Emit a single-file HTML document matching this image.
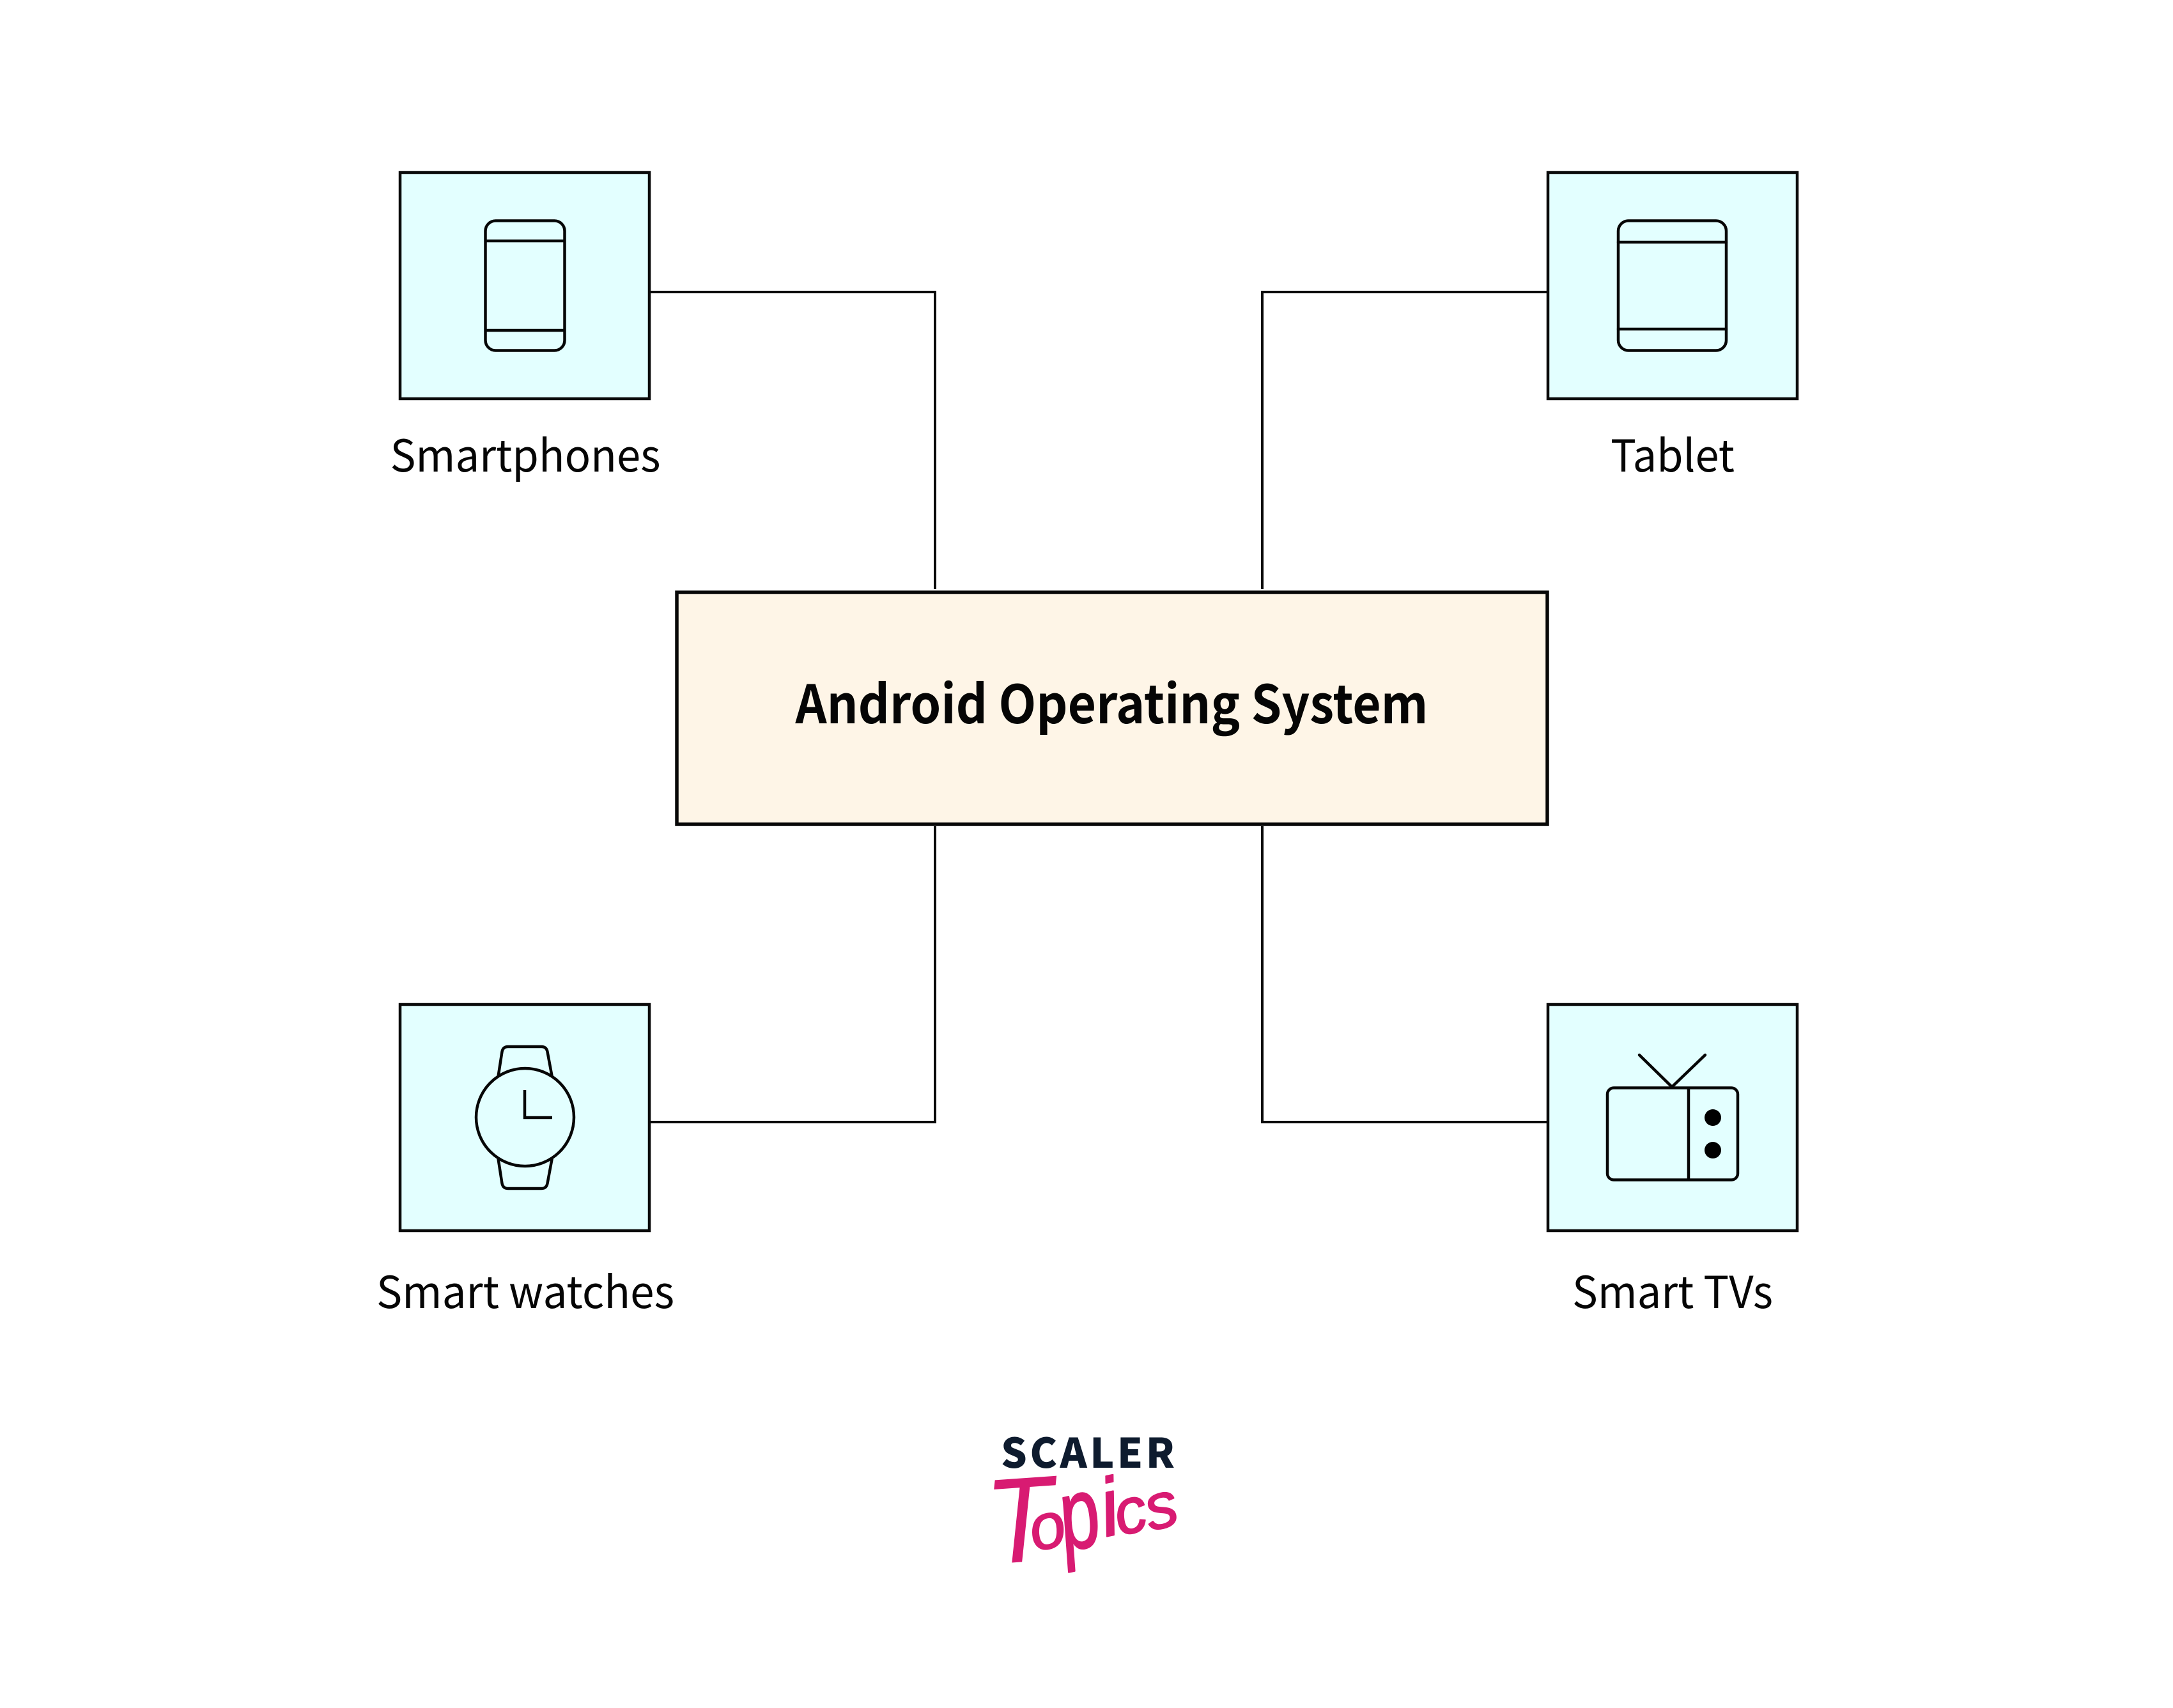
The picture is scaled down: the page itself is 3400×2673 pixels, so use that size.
<!DOCTYPE html>
<html lang="en">
<head>
<meta charset="utf-8">
<title>Android Operating System</title>
<style>
html,body{margin:0;padding:0;background:#fff;width:3400px;height:2673px;overflow:hidden}
svg{display:block}
.lab{font-family:"Noto Sans CJK JP","Liberation Sans",sans-serif;font-size:69px;fill:#050505;text-anchor:middle}
.ic{fill:none;stroke:#060606;stroke-width:4.500;stroke-linejoin:round;stroke-linecap:round}
.box{fill:#e3ffff;stroke:#0a0a0a;stroke-width:4.500}
.con{fill:none;stroke:#0a0a0a;stroke-width:4}
.tp{font-family:"Liberation Sans","DejaVu Sans",sans-serif;font-style:italic;fill:#d81b72;stroke:#d81b72;stroke-width:2;stroke-linejoin:round}
</style>
</head>
<body>
<svg width="3400" height="2673" viewBox="0 0 3400 2673" xmlns="http://www.w3.org/2000/svg">
<rect width="3400" height="2673" fill="#fff"/>

<!-- connectors -->
<path class="con" d="M1018 457H1463V922"/>
<path class="con" d="M2420 457H1975V922"/>
<path class="con" d="M1018 1756H1463V1293"/>
<path class="con" d="M2420 1756H1975V1293"/>

<!-- device boxes -->
<rect class="box" x="626" y="270" width="390" height="354"/>
<rect class="box" x="2422" y="270" width="390" height="354"/>
<rect class="box" x="626" y="1572" width="390" height="354"/>
<rect class="box" x="2422" y="1572" width="390" height="354"/>

<!-- phone -->
<rect class="ic" x="759.500" y="345.500" width="124" height="203" rx="16"/>
<path class="ic" d="M760 377H883M760 517H883"/>

<!-- tablet -->
<rect class="ic" x="2532" y="345.500" width="169" height="203" rx="16"/>
<path class="ic" d="M2532 379H2701M2532 515H2701"/>

<!-- watch -->
<path class="ic" d="M779.600 1684L785.500 1646Q787 1638 795 1638H847Q855 1638 856.500 1646L863.600 1684"/>
<path class="ic" d="M779.600 1814L785.500 1852Q787 1860 795 1860H847Q855 1860 856.500 1852L863.600 1814"/>
<circle class="ic" cx="821.500" cy="1748.500" r="76.500"/>
<path class="ic" style="stroke-linecap:butt;stroke-linejoin:miter" d="M821 1706V1749H864"/>

<!-- tv -->
<rect class="ic" x="2515" y="1702.500" width="204" height="144" rx="10"/>
<path class="ic" style="stroke-linecap:butt" d="M2642 1702V1848"/>
<path class="ic" d="M2565 1651L2616 1701L2668 1651"/>
<circle cx="2680" cy="1749" r="13" fill="#000"/>
<circle cx="2680" cy="1800" r="13" fill="#000"/>

<!-- center -->
<rect x="1059" y="927" width="1362" height="363" fill="#fef5e7" stroke="#080808" stroke-width="5.500"/>
<text x="1739.500" y="1132" font-family="'Noto Sans CJK JP','Liberation Sans',sans-serif" font-weight="700" font-size="83" fill="#050505" text-anchor="middle" textLength="990" lengthAdjust="spacingAndGlyphs">Android Operating System</text>

<!-- labels -->
<text class="lab" x="822" y="738" textLength="423" lengthAdjust="spacingAndGlyphs">Smartphones</text>
<text class="lab" x="2617" y="738" textLength="194" lengthAdjust="spacingAndGlyphs">Tablet</text>
<text class="lab" x="822" y="2047" textLength="466" lengthAdjust="spacingAndGlyphs">Smart watches</text>
<text class="lab" x="2617" y="2047" textLength="314" lengthAdjust="spacingAndGlyphs">Smart TVs</text>

<!-- logo -->
<text x="1566" y="2297" font-family="'Noto Sans CJK JP','Liberation Sans',sans-serif" font-weight="900" font-size="64" fill="#0e1b2e" textLength="272" lengthAdjust="spacing">SCALER</text>
<text class="tp" style="stroke-width:0" font-size="190" transform="translate(1548 2448) rotate(-4) scale(.9 1)">T</text>
<text class="tp" font-size="100" transform="translate(1618 2428) rotate(-12)">o</text>
<text class="tp" font-size="112" transform="translate(1668 2428) rotate(-12) scale(1 1.4)">p</text>
<text class="tp" font-size="128" transform="translate(1730 2405) rotate(-12)">i</text>
<text class="tp" font-size="100" transform="translate(1752 2404) rotate(-14)">c</text>
<text class="tp" font-size="100" transform="translate(1800 2396) rotate(-14)">s</text>
</svg>
</body>
</html>
